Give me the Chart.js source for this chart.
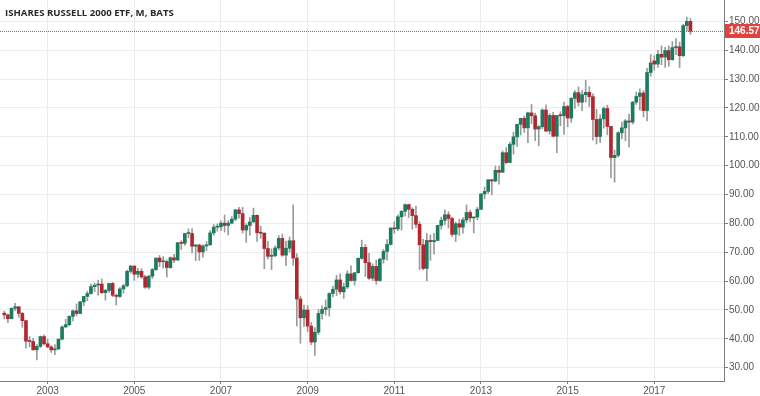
<!DOCTYPE html>
<html>
<head>
<meta charset="utf-8">
<script src="https://cdn.jsdelivr.net/npm/chart.js@4.4.1/dist/chart.umd.min.js"></script>
<style>
  html, body { margin: 0; padding: 0; background: #ffffff; }
  #c { display: block; }
</style>
</head>
<body>
<canvas id="c" width="760" height="396"></canvas>
<script>
// ---- Data (monthly candles, Jan 2002 .. Nov 2017) ----
const title = 'ISHARES RUSSELL 2000 ETF, M, BATS';
const startYear = 2002;

const opens = [
  48.9, 48.3, 47.0, 50.6, 51.1, 48.8, 46.3, 39.2, 39.1, 36.2, 37.4, 40.8,
  38.3, 37.2, 36.2, 36.5, 39.9, 44.1, 44.9, 47.8, 49.7, 48.8, 52.8, 54.7,
  55.7, 58.1, 58.6, 59.0, 56.0, 56.8, 59.2, 55.1, 54.7, 57.3, 58.4, 63.4,
  65.2, 62.4, 63.4, 61.5, 57.9, 61.7, 64.0, 68.0, 66.7, 66.8, 64.7, 68.1,
  67.3, 73.3, 73.1, 76.5, 76.5, 72.1, 72.5, 70.1, 72.2, 72.6, 76.7, 78.7,
  78.8, 80.1, 79.3, 80.1, 81.5, 84.7, 83.4, 77.7, 79.3, 80.5, 82.8, 76.8,
  76.6, 71.3, 68.6, 68.8, 71.5, 74.8, 69.0, 71.4, 74.0, 68.0, 53.8, 47.3,
  50.0, 44.4, 38.9, 42.3, 48.8, 50.2, 50.8, 55.7, 57.2, 60.4, 56.3, 58.0,
  62.5, 60.2, 62.9, 67.9, 71.7, 66.4, 61.0, 65.1, 60.2, 67.6, 70.3, 72.7,
  78.4, 78.1, 82.3, 84.2, 86.5, 84.9, 82.7, 79.7, 72.6, 64.4, 74.1, 73.7,
  74.1, 79.3, 81.1, 83.0, 81.7, 76.2, 79.9, 78.7, 81.2, 83.8, 81.9, 82.2,
  84.9, 90.2, 91.1, 95.1, 94.7, 98.4, 97.7, 104.5, 101.1, 107.4, 110.0, 114.3,
  116.4, 113.1, 118.3, 117.3, 112.7, 113.5, 119.3, 112.0, 117.4, 110.2, 117.4, 117.3,
  120.5, 116.5, 123.3, 125.3, 122.0, 124.6, 125.4, 123.9, 116.0, 110.1, 116.2, 119.8,
  113.6, 102.8, 103.6, 111.4, 113.1, 115.5, 115.1, 122.0, 124.0, 125.2, 119.1, 132.3,
  136.3, 135.2, 138.6, 137.6, 139.9, 136.7, 140.9, 141.2, 138.1, 148.5, 150.0
];
const highs = [
  49.6, 48.6, 50.7, 52.3, 51.3, 49.2, 46.5, 40.8, 40.2, 38.0, 41.0, 41.4,
  39.9, 37.6, 38.0, 40.0, 44.5, 46.8, 48.0, 50.0, 52.1, 53.0, 54.7, 56.5,
  59.0, 59.3, 60.3, 60.7, 57.2, 59.2, 59.6, 55.4, 57.8, 59.0, 63.8, 65.5,
  65.4, 64.4, 64.3, 62.0, 62.1, 64.4, 68.0, 68.9, 68.5, 67.3, 68.4, 69.3,
  73.4, 74.0, 76.6, 78.1, 78.2, 72.8, 72.8, 72.6, 73.7, 77.5, 79.6, 79.8,
  80.9, 82.9, 81.0, 82.4, 84.8, 85.6, 85.6, 79.9, 82.0, 85.3, 83.0, 79.0,
  76.8, 73.8, 71.2, 72.2, 75.8, 76.3, 73.9, 75.3, 86.4, 69.5, 54.8, 51.7,
  51.5, 45.7, 43.9, 50.2, 51.4, 53.5, 56.0, 58.3, 62.0, 62.5, 59.3, 63.6,
  65.3, 63.0, 68.1, 74.2, 72.7, 69.6, 66.0, 67.3, 68.0, 71.0, 74.4, 78.5,
  80.6, 83.0, 84.4, 86.8, 86.7, 85.4, 86.0, 80.6, 74.5, 76.5, 76.0, 76.6,
  79.4, 82.2, 84.7, 84.1, 82.2, 80.5, 81.5, 82.0, 86.4, 84.6, 82.2, 85.6,
  90.3, 92.6, 95.3, 95.3, 99.9, 99.9, 105.1, 106.3, 108.1, 111.6, 114.4, 116.4,
  117.2, 118.6, 121.2, 118.2, 114.0, 119.7, 121.1, 118.0, 118.5, 117.4, 118.7, 122.0,
  120.9, 123.7, 126.0, 127.3, 126.0, 129.6, 127.4, 124.9, 119.5, 117.7, 120.4, 121.0,
  113.6, 105.4, 111.8, 115.1, 116.0, 117.9, 122.3, 125.5, 126.6, 126.0, 133.7, 138.5,
  138.1, 140.0, 141.5, 141.0, 141.5, 143.0, 144.0, 142.8, 149.0, 151.5, 151.0
];
const lows = [
  46.9, 45.6, 46.9, 49.8, 47.5, 44.0, 36.8, 37.3, 36.1, 32.7, 37.0, 37.9,
  37.0, 35.3, 34.5, 36.3, 39.6, 44.0, 44.5, 46.2, 48.0, 48.8, 51.5, 53.2,
  55.5, 56.4, 55.1, 55.7, 53.4, 56.1, 54.6, 51.7, 54.3, 55.8, 58.0, 62.8,
  60.3, 61.2, 60.9, 57.5, 57.3, 60.9, 63.7, 65.0, 64.5, 61.4, 64.4, 66.4,
  67.2, 71.0, 72.4, 75.0, 69.8, 67.1, 67.2, 68.3, 70.6, 72.4, 75.9, 77.3,
  77.5, 77.0, 76.0, 79.8, 80.9, 81.8, 76.7, 73.4, 75.9, 80.4, 73.8, 74.8,
  64.3, 67.7, 64.0, 68.5, 70.8, 68.6, 65.4, 70.0, 65.5, 44.5, 38.5, 44.3,
  42.5, 38.0, 34.3, 41.5, 46.8, 48.2, 47.9, 54.5, 55.0, 55.5, 54.0, 57.4,
  60.0, 58.6, 62.8, 67.6, 61.6, 60.6, 60.2, 58.9, 60.0, 66.2, 67.3, 72.5,
  76.6, 77.5, 77.7, 82.6, 82.0, 78.0, 78.5, 64.0, 63.9, 60.1, 67.2, 69.3,
  74.0, 78.0, 79.6, 78.4, 75.4, 73.7, 75.8, 76.6, 80.2, 80.5, 76.7, 81.2,
  84.8, 88.5, 90.4, 89.9, 94.4, 93.6, 97.7, 100.7, 101.0, 104.0, 106.7, 110.6,
  111.5, 108.0, 114.6, 108.7, 106.9, 112.8, 111.8, 110.9, 109.9, 104.5, 113.8, 110.8,
  113.5, 115.0, 119.8, 120.7, 119.1, 122.0, 120.5, 108.8, 107.5, 108.0, 113.0, 110.7,
  95.8, 94.3, 103.0, 109.3, 108.6, 106.5, 114.4, 121.2, 119.2, 116.9, 115.5, 131.0,
  133.1, 134.0, 135.0, 134.0, 134.4, 136.6, 138.5, 134.0, 137.8, 146.6, 145.5
];
const closes = [
  48.3, 47.0, 50.6, 51.1, 48.8, 46.3, 39.2, 39.1, 36.2, 37.4, 40.8, 38.3,
  37.2, 36.2, 36.5, 39.9, 44.1, 44.9, 47.8, 49.7, 48.8, 52.8, 54.7, 55.7,
  58.1, 58.6, 59.0, 56.0, 56.8, 59.2, 55.1, 54.7, 57.3, 58.4, 63.4, 65.2,
  62.4, 63.4, 61.5, 57.9, 61.7, 64.0, 68.0, 66.7, 66.8, 64.7, 68.1, 67.3,
  73.3, 73.1, 76.5, 76.5, 72.1, 72.5, 70.1, 72.2, 72.6, 76.7, 78.7, 78.8,
  80.1, 79.3, 80.1, 81.5, 84.7, 83.4, 77.7, 79.3, 80.5, 82.8, 76.8, 76.6,
  71.3, 68.6, 68.8, 71.5, 74.8, 69.0, 71.4, 74.0, 68.0, 53.8, 47.3, 50.0,
  44.4, 38.9, 42.3, 48.8, 50.2, 50.8, 55.7, 57.2, 60.4, 56.3, 58.0, 62.5,
  60.2, 62.9, 67.9, 71.7, 66.4, 61.0, 65.1, 60.2, 67.6, 70.3, 72.7, 78.4,
  78.1, 82.3, 84.2, 86.5, 84.9, 82.7, 79.7, 72.6, 64.4, 74.1, 73.7, 74.1,
  79.3, 81.1, 83.0, 81.7, 76.2, 79.9, 78.7, 81.2, 83.8, 81.9, 82.2, 84.9,
  90.2, 91.1, 95.1, 94.7, 98.4, 97.7, 104.5, 101.1, 107.4, 110.0, 114.3, 116.4,
  113.1, 118.3, 117.3, 112.7, 113.5, 119.3, 112.0, 117.4, 110.2, 117.4, 117.3, 120.5,
  116.5, 123.3, 125.3, 122.0, 124.6, 125.4, 123.9, 116.0, 110.1, 116.2, 119.8, 113.6,
  102.8, 103.6, 111.4, 113.1, 115.5, 115.1, 122.0, 124.0, 125.2, 119.1, 132.3, 135.6,
  135.2, 138.6, 137.6, 139.9, 136.7, 140.9, 141.2, 138.1, 148.5, 150.0, 146.57
];

const xTickYears = [2003, 2005, 2007, 2009, 2011, 2013, 2015, 2017];
const yTicks = [30, 40, 50, 60, 70, 80, 90, 100, 110, 120, 130, 140, 150];

// ---- Styles ----
const upColor = '#1c7a5f';
const downColor = '#b0282f';
const wickColor = '#9a9a9a';
const gridColor = '#ececec';
const axisColor = '#7d7d7d';
const textColor = '#555555';
const lastColor = '#e0423f';

const idx = closes.map((_, i) => i);
const lastClose = closes[closes.length - 1];

const titlePlugin = {
  id: 'titleText',
  afterDraw(chart) {
    const c = chart.ctx;
    c.save();
    c.font = '700 9.6px "Open Sans", sans-serif';
    c.fillStyle = '#2a2a2a';
    c.textBaseline = 'alphabetic';
    c.textAlign = 'left';
    c.fillText(title, 5, 16);
    c.restore();
  }
};

const lastPricePlugin = {
  id: 'lastPrice',
  beforeDatasetsDraw(chart) {
    const c = chart.ctx, a = chart.chartArea;
    const y = Math.round(chart.scales.y.getPixelForValue(lastClose)) + 0.5;
    c.save();
    c.strokeStyle = '#d24a3c';
    c.lineWidth = 1;
    c.setLineDash([1, 1]);
    c.beginPath();
    c.moveTo(a.left, y);
    c.lineTo(a.right, y);
    c.stroke();
    c.restore();
  },
  afterDraw(chart) {
    const c = chart.ctx, a = chart.chartArea;
    const y = Math.round(chart.scales.y.getPixelForValue(lastClose));
    c.save();
    c.fillStyle = lastColor;
    c.fillRect(a.right + 1, y - 7, chart.width - a.right - 1, 14);
    c.fillStyle = '#ffffff';
    c.font = 'bold 10px "Liberation Sans", Arial, sans-serif';
    c.textBaseline = 'middle';
    c.textAlign = 'left';
    c.fillText(lastClose.toFixed(2), a.right + 5, y + 0.5);
    c.restore();
  }
};

new Chart(document.getElementById('c'), {
  type: 'bar',
  data: {
    datasets: [
      {
        label: 'body',
        data: idx.map(i => ({ x: i, y: [opens[i], closes[i]] })),
        backgroundColor: idx.map(i => closes[i] >= opens[i] ? upColor : downColor),
        barThickness: 3,
        minBarLength: 1,
        grouped: false,
        order: 1
      },
      {
        label: 'wick',
        data: idx.map(i => ({ x: i, y: [lows[i], highs[i]] })),
        backgroundColor: wickColor,
        barThickness: 1,
        grouped: false,
        order: 2
      }
    ]
  },
  options: {
    responsive: false,
    maintainAspectRatio: false,
    animation: false,
    layout: { padding: 0 },
    plugins: { legend: { display: false }, tooltip: { enabled: false }, title: { display: false } },
    scales: {
      x: {
        type: 'linear',
        min: -1.19,
        max: 199.3,
        offset: false,
        grid: { color: gridColor, offset: false, drawTicks: true, tickLength: 3, tickColor: axisColor },
        border: { display: true, color: axisColor },
        afterBuildTicks: s => { s.ticks = xTickYears.map(y => ({ value: (y - startYear) * 12 })); },
        afterFit: s => { s.height = 15; s.paddingLeft = 0; s.paddingRight = 0; },
        ticks: {
          autoSkip: false, maxRotation: 0, padding: 1, color: textColor,
          font: { size: 10, family: '"Liberation Sans", Arial, sans-serif' },
          callback: v => String(startYear + Math.round(v / 12))
        }
      },
      y: {
        type: 'linear',
        position: 'right',
        min: 25.4,
        max: 157.4,
        grid: { color: gridColor, drawTicks: true, tickLength: 4, tickColor: axisColor },
        border: { display: true, color: axisColor },
        afterBuildTicks: s => { s.ticks = yTicks.map(v => ({ value: v })); },
        afterFit: s => { s.width = 36; s.paddingTop = 0; s.paddingBottom = 0; },
        ticks: {
          padding: 1, color: textColor,
          font: { size: 10, family: '"Liberation Sans", Arial, sans-serif' },
          callback: v => Number(v).toFixed(2)
        }
      }
    }
  },
  plugins: [titlePlugin, lastPricePlugin]
});
</script>
</body>
</html>
